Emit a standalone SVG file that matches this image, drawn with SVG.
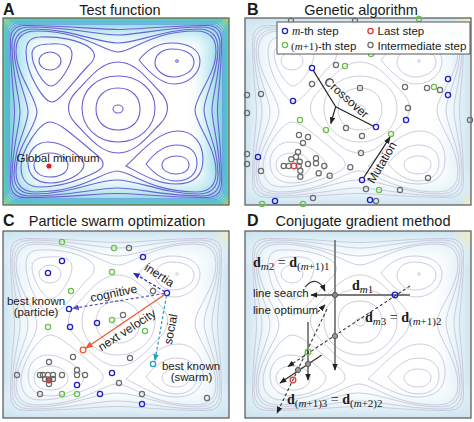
<svg xmlns="http://www.w3.org/2000/svg" width="474" height="422" viewBox="0 0 474 422">
<style>
text{font-family:"Liberation Sans",Arial,sans-serif;fill:#1a1a1a}
.ttl{font-size:14.5px}
.lbl{font-size:16px;font-weight:bold}
.sm{font-size:11.5px}
.md{font-size:12px}
.ms{font-family:"Liberation Serif","Times New Roman",serif}
.math{font-family:"Liberation Serif","Times New Roman",serif;font-size:14px}
.b{font-weight:bold}
.i{font-style:italic}
.sub{font-size:11px}
.frame{fill:none;stroke:#555;stroke-width:1.2}
.ca{fill:none;stroke:#6a62d4;stroke-width:1.1}
.cg{fill:none;stroke:#c6c6d9;stroke-width:0.9}
.mb{fill:none;stroke:#1e1ec8;stroke-width:1.3}
.mg{fill:none;stroke:#6cbf4a;stroke-width:1.3}
.mk{fill:none;stroke:#6b6b6b;stroke-width:1.2}
.mr{fill:none;stroke:#e03838;stroke-width:1.3}
.band{fill:none;stroke-width:0.9}
.dash{stroke-dasharray:3 2.2;stroke-width:1.2;fill:none}
.ax{stroke:#7a7a7a;stroke-width:1.8;fill:none}
.dk{stroke:#333;fill:none}
</style>
<defs>
<clipPath id="fr"><rect x="3" y="18" width="226" height="187"/></clipPath>
<linearGradient id="gAh" x1="0" y1="0" x2="1" y2="0">
<stop offset="0" stop-color="#5ec4d4"/>
<stop offset=".04" stop-color="#7fd0e0" stop-opacity=".9"/>
<stop offset=".1" stop-color="#a8e2ee" stop-opacity=".55"/>
<stop offset=".15" stop-color="#d8f2f6" stop-opacity=".2"/>
<stop offset=".2" stop-color="#fff" stop-opacity="0"/>
<stop offset=".8" stop-color="#fff" stop-opacity="0"/>
<stop offset=".85" stop-color="#d8f2f6" stop-opacity=".2"/>
<stop offset=".9" stop-color="#a8e2ee" stop-opacity=".55"/>
<stop offset=".96" stop-color="#7fd0e0" stop-opacity=".9"/>
<stop offset="1" stop-color="#5ec4d4"/>
</linearGradient>
<linearGradient id="gAv" href="#gAh" x1="0" y1="0" x2="0" y2="1"/>
<linearGradient id="gPh" x1="0" y1="0" x2="1" y2="0">
<stop offset="0" stop-color="#c9e2ef" stop-opacity=".95"/>
<stop offset=".05" stop-color="#d6eaf4" stop-opacity=".7"/>
<stop offset=".12" stop-color="#e6f3f8" stop-opacity=".35"/>
<stop offset=".2" stop-color="#fff" stop-opacity="0"/>
<stop offset=".8" stop-color="#fff" stop-opacity="0"/>
<stop offset=".88" stop-color="#e6f3f8" stop-opacity=".35"/>
<stop offset=".95" stop-color="#d6eaf4" stop-opacity=".7"/>
<stop offset="1" stop-color="#c9e2ef" stop-opacity=".95"/>
</linearGradient>
<linearGradient id="gPv" href="#gPh" x1="0" y1="0" x2="0" y2="1"/>
<radialGradient id="gY">
<stop offset="0" stop-color="#f2cf3c"/>
<stop offset=".5" stop-color="#c8dc70" stop-opacity=".6"/>
<stop offset="1" stop-color="#c8dc70" stop-opacity="0"/>
</radialGradient>
<radialGradient id="gPY">
<stop offset="0" stop-color="#f4eebc"/>
<stop offset="1" stop-color="#f4eebc" stop-opacity="0"/>
</radialGradient>
<marker id="ak" viewBox="0 0 10 10" refX="9" refY="5" markerWidth="7" markerHeight="7" markerUnits="userSpaceOnUse" orient="auto"><path d="M0,1 L10,5 L0,9 Z" fill="#222"/></marker>
<marker id="ab" viewBox="0 0 10 10" refX="9" refY="5" markerWidth="7" markerHeight="7" markerUnits="userSpaceOnUse" orient="auto"><path d="M0,1 L10,5 L0,9 Z" fill="#2828b0"/></marker>
<marker id="ap" viewBox="0 0 10 10" refX="9" refY="5" markerWidth="7" markerHeight="7" markerUnits="userSpaceOnUse" orient="auto"><path d="M0,1 L10,5 L0,9 Z" fill="#5550c0"/></marker>
<marker id="ao" viewBox="0 0 10 10" refX="9" refY="5" markerWidth="8" markerHeight="8" markerUnits="userSpaceOnUse" orient="auto"><path d="M0,1 L10,5 L0,9 Z" fill="#ee5a30"/></marker>
<marker id="at" viewBox="0 0 10 10" refX="9" refY="5" markerWidth="7" markerHeight="7" markerUnits="userSpaceOnUse" orient="auto"><path d="M0,1 L10,5 L0,9 Z" fill="#2a9cbc"/></marker>
<g id="basins">
<ellipse cx="50" cy="61" rx="11" ry="9"/>
<path d="M50,44 C62,43 72,45 72,54 C72,66 58,86 51,86 C44,86 32,66 32,54 C32,46 40,44 50,44 Z"/>
<path d="M40,37 C58,36 80,40 90,48 C97,54 95,60 88,66 C76,78 60,102 52,102 C44,102 26,74 26,52 C26,41 31,37 40,37 Z"/>
<circle cx="177" cy="61" r="1.3"/>
<path d="M172,49 C185,49 194,54 194,62 C194,71 184,77 173,77 C163,77 155,69 155,63 C155,55 162,49 172,49 Z"/>
<path d="M172,43 C189,43 200,50 200,61 C200,74 188,84 174,84 C160,84 147,70 139,60 C146,51 157,43 172,43 Z"/>
<ellipse cx="118" cy="109" rx="5" ry="4"/>
<path d="M118,88 C132,88 140,97 140,109 C140,121 132,130 118,130 C104,130 96,121 96,109 C96,97 104,88 118,88 Z"/>
<path d="M118,76 C139,76 155,90 155,108 C155,127 139,142 118,142 C97,142 82,127 82,108 C82,90 97,76 118,76 Z"/>
<path d="M118,62 C136,62 148,80 160,92 C170,102 170,114 160,124 C148,136 136,153 118,153 C100,153 88,136 76,124 C66,114 66,102 76,92 C88,80 100,62 118,62 Z"/>
<path d="M50,153 C61,153 68,159 68,165 C68,173 60,177 50,177 C40,177 34,172 34,165 C34,158 40,153 50,153 Z"/>
<path d="M48,142 C62,142 80,154 84,164 C84,174 66,183 50,183 C36,183 28,175 28,163 C28,151 36,142 48,142 Z"/>
<path d="M50,122 C60,122 76,138 98,156 C106,163 104,168 96,172 C80,180 60,187 40,187 C28,187 21,180 21,167 C21,150 40,122 50,122 Z"/>
<path d="M176,156 C185,156 189,160 189,165 C189,170 184,174 176,174 C168,174 162,170 162,165 C162,160 168,156 176,156 Z"/>
<path d="M176,145 C190,145 197,152 197,163 C197,174 189,181 176,181 C162,181 151,170 146,164 C151,157 162,145 176,145 Z"/>
<path d="M178,131 C194,131 203,144 203,159 C203,175 194,184 176,184 C156,184 140,173 126,166 C140,153 158,131 178,131 Z"/>
</g>
<g id="outer">
<path d="M36,31 C84,31 104,52 118,52 C132,52 152,31 196,31 Q216,31 216,51 C216,75 195,96 195,110 C195,124 216,146 216,172 Q216,192 196,192 C151,192 131,171 117,171 C103,171 83,192 36,192 Q16,192 16,172 C16,146 37,126 37,112 C37,98 16,75 16,51 Q16,31 36,31 Z"/>
<path d="M34,29 C72,29 98,43 118,43 C138,43 164,29 198,29 Q218,29 218,49 C218,75 204,96 204,110 C204,124 218,146 218,174 Q218,194 198,194 C164,194 137,180 117,180 C97,180 70,194 34,194 Q14,194 14,174 C14,146 28,126 28,112 C28,98 14,75 14,49 Q14,29 34,29 Z"/>
<path d="M30,27 C70,27 98,35 118,35 C138,35 166,27 202,27 Q220,27 220,45 C220,75 212,96 212,110 C212,124 220,146 220,178 Q220,196 202,196 C166,196 137,188 117,188 C97,188 70,196 30,196 Q12,196 12,178 C12,146 20,126 20,112 C20,98 12,75 12,45 Q12,27 30,27 Z"/>
<path d="M25.5,25.5 C70,25.5 98,29.5 118,29.5 C138,29.5 166,25.5 206.5,25.5 Q221.5,25.5 221.5,40.5 C221.5,75 217.5,96 217.5,110 C217.5,124 221.5,146 221.5,182.5 Q221.5,197.5 206.5,197.5 C166,197.5 137,193.5 117,193.5 C97,193.5 70,197.5 25.5,197.5 Q10.5,197.5 10.5,182.5 C10.5,146 14.5,126 14.5,112 C14.5,98 10.5,75 10.5,40.5 Q10.5,25.5 25.5,25.5 Z"/>
</g>
</defs>

<g id="panel-a">
<g clip-path="url(#fr)">
<rect x="3" y="18" width="226" height="187" fill="#fff"/>
<rect x="3" y="18" width="226" height="187" fill="url(#gAh)"/>
<rect x="3" y="18" width="226" height="187" fill="url(#gAv)" opacity=".8"/>
<circle cx="3" cy="18" r="14" fill="url(#gY)"/>
<circle cx="229" cy="18" r="16" fill="url(#gY)"/>
<circle cx="3" cy="205" r="13" fill="url(#gY)"/>
<circle cx="229" cy="205" r="13" fill="url(#gY)"/>
<rect class="band" x="9.2" y="24.2" width="213.6" height="174.6" rx="12" stroke="#5a92d8"/>
<rect class="band" x="8" y="23" width="216" height="177" rx="10.5" stroke="#52a4d8"/>
<rect class="band" x="6.9" y="21.9" width="218.2" height="179.2" rx="9" stroke="#4ab2d4"/>
<rect class="band" x="6" y="21" width="220" height="181" rx="7.5" stroke="#46bccf"/>
<rect class="band" x="5.2" y="20.2" width="221.6" height="182.6" rx="6" stroke="#48c6c6"/>
<rect class="band" x="4.5" y="19.5" width="223" height="184" rx="5" stroke="#56ccb6"/>
<rect class="band" x="3.9" y="18.9" width="224.2" height="185.2" rx="4" stroke="#70d2a2"/>
<rect class="band" x="3.4" y="18.4" width="225.2" height="186.2" rx="3" stroke="#98d68e"/>
<use href="#outer" class="ca"/>
<use href="#basins" class="ca"/>
</g>
<rect class="frame" x="3" y="18" width="226" height="187"/>
<text class="lbl" x="3" y="15">A</text>
<text class="ttl" x="120" y="15" text-anchor="middle">Test function</text>
<text class="sm" x="16.5" y="162">Global minimum</text>
<circle cx="49" cy="166" r="2.6" fill="#e02020"/>
</g>

<g id="panel-b">
<g transform="translate(242,0)" clip-path="url(#fr)">
<rect x="3" y="18" width="226" height="187" fill="#fff"/>
<rect x="3" y="18" width="226" height="187" fill="url(#gPh)"/>
<rect x="3" y="18" width="226" height="187" fill="url(#gPv)"/>
<circle cx="229" cy="18" r="20" fill="url(#gPY)"/>
<circle cx="229" cy="205" r="14" fill="url(#gPY)"/>
<use href="#outer" class="cg"/>
<use href="#basins" class="cg"/>
</g>
<rect class="frame" x="245" y="18" width="226" height="187"/>
<text class="lbl" x="247" y="15">B</text>
<text class="ttl" x="361" y="15" text-anchor="middle">Genetic algorithm</text>
<g id="b-points">
<circle class="mk" cx="336" cy="65" r="2.6"/><circle class="mk" cx="312" cy="84" r="2.6"/><circle class="mk" cx="261" cy="94" r="2.6"/><circle class="mk" cx="247" cy="95" r="2.6"/><circle class="mk" cx="247" cy="113" r="2.6"/><circle class="mk" cx="360" cy="88" r="2.6"/><circle class="mk" cx="405" cy="87" r="2.6"/><circle class="mk" cx="427" cy="88" r="2.6"/><circle class="mk" cx="440" cy="90" r="2.6"/><circle class="mk" cx="408" cy="108" r="2.6"/><circle class="mk" cx="346" cy="128" r="2.6"/><circle class="mk" cx="362" cy="136" r="2.6"/><circle class="mk" cx="299" cy="135" r="2.6"/><circle class="mk" cx="308" cy="137" r="2.6"/><circle class="mk" cx="303" cy="143" r="2.6"/><circle class="mk" cx="298" cy="152" r="2.6"/><circle class="mk" cx="361" cy="153" r="2.6"/><circle class="mk" cx="470" cy="120" r="2.6"/><circle class="mk" cx="247" cy="154" r="2.6"/><circle class="mk" cx="247" cy="164" r="2.6"/><circle class="mk" cx="261" cy="171" r="2.6"/><circle class="mk" cx="428" cy="178" r="2.6"/><circle class="mk" cx="400" cy="190" r="2.6"/><circle class="mk" cx="366" cy="189" r="2.6"/><circle class="mk" cx="313" cy="198" r="2.6"/><circle class="mk" cx="376" cy="201" r="2.6"/><circle class="mk" cx="291" cy="21" r="2.6"/><circle class="mk" cx="355" cy="21" r="2.6"/>
<circle class="mk" cx="283.7" cy="166" r="2.6"/><circle class="mk" cx="288.7" cy="166" r="2.6"/><circle class="mk" cx="298.7" cy="166" r="2.6"/><circle class="mk" cx="300.3" cy="170.7" r="2.6"/><circle class="mk" cx="291.3" cy="159.3" r="2.6"/><circle class="mk" cx="299.7" cy="161.7" r="2.6"/><circle class="mk" cx="308" cy="164" r="2.6"/><circle class="mk" cx="316" cy="158.3" r="2.6"/><circle class="mk" cx="316" cy="163.3" r="2.6"/><circle class="mk" cx="324.3" cy="166" r="2.6"/><circle class="mk" cx="318.7" cy="173.3" r="2.6"/><circle class="mk" cx="329.7" cy="175.7" r="2.6"/><circle class="mk" cx="300.3" cy="176.7" r="2.6"/><circle class="mk" cx="350.3" cy="167.3" r="2.6"/><circle class="mk" cx="296" cy="157" r="2.6"/>
<circle class="mr" cx="294" cy="166" r="2.8"/>
<circle class="mg" cx="345" cy="66" r="2.6"/><circle class="mg" cx="300" cy="120" r="2.6"/><circle class="mg" cx="326" cy="130" r="2.6"/><circle class="mg" cx="391" cy="134" r="2.6"/><circle class="mg" cx="434" cy="87" r="2.6"/><circle class="mg" cx="379" cy="190" r="2.6"/><circle class="mg" cx="371" cy="54" r="2.6"/><circle class="mg" cx="419" cy="19" r="2.6"/><circle class="mg" cx="262" cy="204" r="2.6"/><circle class="mg" cx="303" cy="204" r="2.6"/>
<circle class="mb" cx="312" cy="68" r="2.6"/><circle class="mb" cx="293" cy="101" r="2.6"/><circle class="mb" cx="376" cy="127" r="2.6"/><circle class="mb" cx="406" cy="120" r="2.6"/><circle class="mb" cx="448" cy="79" r="2.6"/><circle class="mb" cx="448" cy="95" r="2.6"/><circle class="mb" cx="258" cy="157" r="2.6"/><circle class="mb" cx="362" cy="180" r="2.6"/><circle class="mb" cx="275" cy="201" r="2.6"/><circle class="mb" cx="370" cy="200" r="2.6"/>
</g>
<g id="b-connectors" stroke="#222" stroke-width="1.2" fill="none">
<line x1="313.4" y1="70.6" x2="335.7" y2="106.7"/>
<line x1="373.5" y1="126.2" x2="335.7" y2="106.7"/>
<line x1="335.7" y1="106.7" x2="330.8" y2="123.5" marker-end="url(#ak)"/>
<line x1="363.8" y1="177.5" x2="390" y2="137.2" marker-end="url(#ak)"/>
</g>
<text class="md" transform="translate(343.7,100.7) rotate(41.7)" text-anchor="middle">Crossover</text>
<text class="md" transform="translate(385.4,164.5) rotate(-59.7)" text-anchor="middle">Mutation</text>
<g id="legend">
<rect x="277" y="22" width="193" height="32" fill="#fff" fill-opacity=".92" stroke="#555" stroke-width="1"/>
<circle class="mb" cx="285" cy="31" r="2.6"/>
<text class="sm" x="292" y="35"><tspan class="ms i">m</tspan>-th step</text>
<circle class="mr" cx="370.5" cy="31" r="2.6"/>
<text class="sm" x="377.5" y="35">Last step</text>
<circle class="mg" cx="285" cy="45" r="2.6"/>
<text class="sm" x="291" y="49.5"><tspan class="ms" font-size="11">(<tspan class="i">m</tspan>+1)</tspan>-th step</text>
<circle class="mk" cx="370.5" cy="45" r="2.6"/>
<text class="sm" x="377.5" y="49.5">Intermediate step</text>
</g>
</g>

<g id="panel-c">
<g transform="translate(0,213)" clip-path="url(#fr)">
<rect x="3" y="18" width="226" height="187" fill="#fff"/>
<rect x="3" y="18" width="226" height="187" fill="url(#gPh)"/>
<rect x="3" y="18" width="226" height="187" fill="url(#gPv)"/>
<circle cx="229" cy="18" r="16" fill="url(#gPY)"/>
<use href="#outer" class="cg"/>
<use href="#basins" class="cg"/>
</g>
<rect class="frame" x="3" y="231" width="226" height="187"/>
<text class="lbl" x="3" y="226">C</text>
<text class="ttl" x="117" y="226" text-anchor="middle">Particle swarm optimization</text>
<g id="c-points">
<circle class="mk" cx="129" cy="248" r="2.6"/><circle class="mk" cx="153" cy="291" r="2.6"/><circle class="mk" cx="123" cy="315" r="2.6"/><circle class="mk" cx="73" cy="357" r="2.6"/><circle class="mk" cx="130" cy="358" r="2.6"/><circle class="mk" cx="49" cy="362" r="2.6"/><circle class="mk" cx="17" cy="375" r="2.6"/><circle class="mk" cx="40" cy="375" r="2.6"/><circle class="mk" cx="62" cy="375" r="2.6"/><circle class="mk" cx="77" cy="370" r="2.6"/><circle class="mk" cx="77" cy="375" r="2.6"/><circle class="mk" cx="85" cy="375" r="2.6"/><circle class="mk" cx="119" cy="383" r="2.6"/><circle class="mk" cx="40" cy="394" r="2.6"/><circle class="mk" cx="142" cy="394" r="2.6"/><circle class="mk" cx="207" cy="398" r="2.6"/>
<circle cx="49" cy="380" r="2.8" fill="#d85a5a" stroke="#c03030" stroke-width="1.2"/>
<circle class="mk" cx="43" cy="375" r="2.6"/><circle class="mk" cx="48" cy="375" r="2.6"/><circle class="mk" cx="53" cy="375" r="2.6"/><circle class="mk" cx="45" cy="379" r="2.6"/><circle class="mk" cx="53" cy="379" r="2.6"/><circle class="mk" cx="49" cy="384" r="2.6"/>
<circle class="mg" cx="62" cy="242" r="2.6"/><circle class="mg" cx="114" cy="248" r="2.6"/><circle class="mg" cx="112" cy="272" r="2.6"/><circle class="mg" cx="71" cy="291" r="2.6"/><circle class="mg" cx="48" cy="327" r="2.6"/><circle class="mg" cx="112" cy="320" r="2.6"/><circle class="mg" cx="145" cy="331" r="2.6"/><circle class="mg" cx="62" cy="394" r="2.6"/><circle class="mg" cx="77" cy="394" r="2.6"/>
<circle class="mb" cx="62" cy="261" r="2.6"/><circle class="mb" cx="48" cy="273" r="2.6"/><circle class="mb" cx="143" cy="257" r="2.6"/><circle class="mb" cx="167" cy="293" r="2.6"/><circle class="mb" cx="69" cy="309" r="2.6"/><circle class="mb" cx="97" cy="323" r="2.6"/><circle class="mb" cx="70" cy="327" r="2.6"/><circle class="mb" cx="112" cy="373" r="2.6"/><circle class="mb" cx="77" cy="385" r="2.6"/><circle class="mb" cx="100" cy="394" r="2.6"/><circle class="mb" cx="142" cy="404" r="2.6"/>
<circle cx="153" cy="364" r="2.6" fill="none" stroke="#2a9cbc" stroke-width="1.3"/>
<circle cx="83" cy="350" r="2.8" fill="none" stroke="#ee5a30" stroke-width="1.3"/>
</g>
<g id="c-connectors">
<line class="dash" x1="164.8" y1="291.7" x2="133.5" y2="273" stroke="#2828b0" marker-end="url(#ab)"/>
<line class="dash" x1="164.4" y1="293.4" x2="72.5" y2="308.4" stroke="#5550c0" marker-end="url(#ap)"/>
<line x1="164.8" y1="294.5" x2="85.6" y2="348.2" stroke="#ee5a30" stroke-width="1.3" marker-end="url(#ao)"/>
<line class="dash" x1="166.5" y1="295.6" x2="155" y2="360.5" stroke="#2a9cbc" marker-end="url(#at)"/>
</g>
<text class="md" transform="translate(157.1,278.4) rotate(33)" text-anchor="middle">inertia</text>
<text class="md" transform="translate(114.5,297.2) rotate(-12)" text-anchor="middle">cognitive</text>
<text class="md" transform="translate(129.2,333.4) rotate(-33)" text-anchor="middle">next velocity</text>
<text class="md" transform="translate(174.6,330) rotate(-79)" text-anchor="middle">social</text>
<text class="sm" x="36" y="304.5" text-anchor="middle">best known</text>
<text class="sm" x="36" y="316" text-anchor="middle">(particle)</text>
<text class="sm" x="191" y="369.5" text-anchor="middle">best known</text>
<text class="sm" x="191.5" y="381" text-anchor="middle">(swarm)</text>
</g>

<g id="panel-d">
<g transform="translate(242,213)" clip-path="url(#fr)">
<rect x="3" y="18" width="226" height="187" fill="#fff"/>
<rect x="3" y="18" width="226" height="187" fill="url(#gPh)"/>
<rect x="3" y="18" width="226" height="187" fill="url(#gPv)"/>
<circle cx="229" cy="18" r="20" fill="url(#gPY)"/>
<use href="#outer" class="cg"/>
<use href="#basins" class="cg"/>
</g>
<rect class="frame" x="245" y="231" width="226" height="187"/>
<text class="lbl" x="247" y="226">D</text>
<text class="ttl" x="363" y="226" text-anchor="middle">Conjugate gradient method</text>
<g id="d-connectors">
<line class="ax" x1="335" y1="240" x2="335" y2="370" marker-end="url(#ak)"/>
<line class="ax" x1="410" y1="295" x2="311" y2="295" marker-end="url(#ak)"/>
<line class="ax" x1="308" y1="322" x2="308" y2="380" marker-end="url(#ak)"/>
<line class="dk" x1="321.7" y1="355" x2="280" y2="383" stroke-width="1.3" marker-end="url(#ak)"/>
<line class="dk" x1="410" y1="286" x2="288" y2="366.5" stroke-width="1.1" stroke-dasharray="3 2.5" marker-end="url(#ak)"/>
<line class="dk" x1="327" y1="309" x2="277" y2="413" stroke-width="1.1" stroke-dasharray="3 2.5" marker-end="url(#ak)"/>
<path class="dk" d="M305,287 Q317,274 325,291" stroke-width="1.1" marker-end="url(#ak)"/>
<line class="dk" x1="318" y1="312" x2="325" y2="305" stroke-width="1.1" stroke-dasharray="2.5 1.5" marker-end="url(#ak)"/>
</g>
<g id="d-points">
<circle cx="335" cy="295" r="2.6" fill="#8a8a8a" stroke="#555" stroke-width="1"/>
<circle cx="335" cy="336" r="2.6" fill="#9a9a9a" stroke="#555" stroke-width="1"/>
<circle cx="308" cy="364" r="2.6" fill="#9a9a9a" stroke="#555" stroke-width="1"/>
<circle cx="298" cy="370" r="2.6" fill="#9a9a9a" stroke="#555" stroke-width="1"/>
<circle class="mg" cx="308" cy="352" r="2.8"/>
<circle cx="308" cy="352" r="0.9" fill="#333"/>
<circle class="mr" cx="293" cy="380" r="2.8"/>
<circle class="mb" cx="395" cy="295" r="2.8"/>
</g>
<text class="math" x="253" y="267"><tspan class="b">d</tspan><tspan class="sub" dy="3"><tspan class="i">m</tspan>2</tspan><tspan dy="-3"> = </tspan><tspan class="b">d</tspan><tspan class="sub" dy="3">(<tspan class="i">m</tspan>+1)1</tspan></text>
<text class="math" x="352" y="290"><tspan class="b">d</tspan><tspan class="sub" dy="3"><tspan class="i">m</tspan>1</tspan></text>
<text class="math" x="365" y="322"><tspan class="b">d</tspan><tspan class="sub" dy="3"><tspan class="i">m</tspan>3</tspan><tspan dy="-3"> = </tspan><tspan class="b">d</tspan><tspan class="sub" dy="3">(<tspan class="i">m</tspan>+1)2</tspan></text>
<text class="math" x="287" y="404"><tspan class="b">d</tspan><tspan class="sub" dy="3">(<tspan class="i">m</tspan>+1)3</tspan><tspan dy="-3"> = </tspan><tspan class="b">d</tspan><tspan class="sub" dy="3">(<tspan class="i">m</tspan>+2)2</tspan></text>
<text class="sm" x="253" y="297">line search</text>
<text class="sm" x="253" y="313.5">line optimum</text>
</g>
</svg>
